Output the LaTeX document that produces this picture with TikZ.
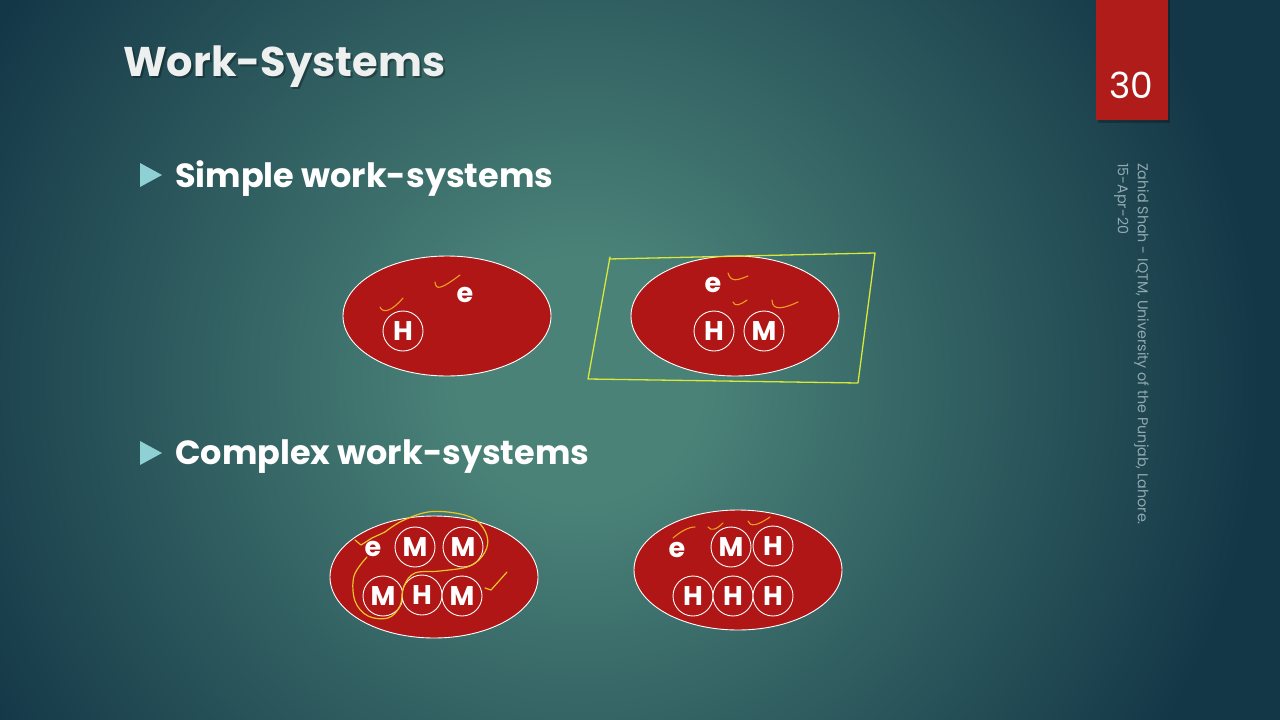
\documentclass[tikz,border=0pt]{standalone}
\usepackage{fontspec}
\setmainfont{Poppins}
\usetikzlibrary{shapes.geometric}
\definecolor{bgdark}{HTML}{143747}
\definecolor{bgmid}{HTML}{4A8278}
\definecolor{sysred}{HTML}{B01616}
\definecolor{boxred}{HTML}{B01C1A}
\definecolor{bulletc}{HTML}{8FD0D4}
\definecolor{titlec}{HTML}{EEF0F0}
\definecolor{footc}{HTML}{90A9B0}
\definecolor{tickorange}{HTML}{F0A020}
\definecolor{yel}{HTML}{D8E83A}
\definecolor{yelor}{HTML}{EDC526}
\pgfdeclareradialshading{bgshade}{\pgfpoint{0bp}{0bp}}{color(0bp)=(bgmid); color(3bp)=(bgmid); color(17bp)=(bgdark); color(50bp)=(bgdark)}
\begin{document}
\begin{tikzpicture}[x=1pt,y=-1pt,
  sys/.style={ellipse, draw=white, line width=0.9pt, fill=sysred, minimum width=208pt, minimum height=120pt, inner sep=0pt},
  agent/.style={circle, draw=white, line width=0.9pt, fill=sysred, minimum size=40pt, inner sep=0pt, text=white, font=\bfseries\fontsize{27}{27}\selectfont},
  env/.style={text=white, inner sep=0pt, font=\bfseries\fontsize{27}{27}\selectfont},
  tick/.style={draw=tickorange, line width=1.1pt, line cap=round, line join=round},
  bullettext/.style={anchor=base west, inner sep=0pt, text=white, font=\bfseries\fontsize{33.5}{33.5}\selectfont},
  bulletmark/.style={fill=bulletc}
]
\useasboundingbox (0,0) rectangle (1280,720);
% background
\begin{scope}
  \clip (0,0) rectangle (1280,720);
  \fill[bgdark] (0,0) rectangle (1280,720);
  \shade[shading=bgshade] (580,380) circle (1000);
\end{scope}

% page number box
\fill[black, opacity=0.25] (1098,0) rectangle (1170,123);
\fill[boxred] (1096,0) rectangle (1168,120);
\node[anchor=base, inner sep=0pt, text=white, font=\fontsize{36}{36}\selectfont] (pnum) at (1131,98) {30};

% footer
\node[rotate=-90, anchor=north west, inner sep=0pt, text=footc, align=left, font=\fontsize{14.3}{20}\selectfont] (foot) at (1149,163) {Zahid Shah - IQTM, University of the Punjab, Lahore.\\15-Apr-20};

% title
\node[anchor=base west, inner sep=0pt, text=black, opacity=0.3, font=\bfseries\fontsize{41.5}{41.5}\selectfont] at (125,78) {Work-Systems};
\node[anchor=base west, inner sep=0pt, text=titlec, font=\bfseries\fontsize{41.5}{41.5}\selectfont] (title) at (123,76) {Work-Systems};

% bullets
\fill[bulletmark] (140,163) -- (162,175) -- (140,187) -- cycle;
\node[bullettext] (b1) at (175,187) {Simple work-systems};
\fill[bulletmark] (140,441) -- (162,453) -- (140,465) -- cycle;
\node[bullettext] (b2) at (175,464) {Complex work-systems};

% system 1
\node[sys] (s1) at (447,316) {};
\node[agent] (s1h) at (403,331) {H};
\node[env] (s1e) at (465,295) {e};

% system 2
\node[sys] (s2) at (735,316) {};
\node[env] (s2e) at (713,285) {e};
\node[agent] (s2h) at (714,331) {H};
\node[agent] (s2m) at (764,331) {M};

% system 3
\node[sys, minimum height=122pt] (s3) at (434,577) {};
\node[env] (s3e) at (373,549) {e};
\node[agent] (s3m1) at (415,547) {M};
\node[agent] (s3m2) at (463,547) {M};
\node[agent] (s3m3) at (383,596) {M};
\node[agent] (s3h) at (422,595) {H};
\node[agent] (s3m4) at (462,596) {M};

% system 4
\node[sys] (s4) at (738,570) {};
\node[env] (s4e) at (677,550) {e};
\node[agent] (s4m) at (731,547) {M};
\node[agent] (s4h1) at (773,546) {H};
\node[agent] (s4h2) at (693,596) {H};
\node[agent] (s4h3) at (733,596) {H};
\node[agent] (s4h4) at (773,596) {H};

% hand-drawn annotations
\draw[yel, line width=1.3pt, line join=round, line cap=round] (609,259) -- (875,253) -- (858,383) -- (588,379) -- (610,257);

\draw[tick] (380,307) .. controls (383,314) and (392,311) .. (403,298);
\draw[tick] (435,282) .. controls (436,290) and (440,290) .. (460,275);
\draw[tick] (728,273) .. controls (731,283) and (738,280) .. (748,276);
\draw[tick] (733,302) .. controls (735,307) and (740,305) .. (747,300);
\draw[tick] (772,300) .. controls (772,312) and (785,308) .. (798,302);
\draw[tick] (673,538) .. controls (680,532) and (688,527) .. (695,527);
\draw[tick] (708,527) .. controls (711,531) and (716,530) .. (723,523);
\draw[tick] (748,521) .. controls (750,527) and (757,526) .. (770,517);

\draw[yelor, line width=1.2pt, line cap=round, line join=round] (355,540) -- (361,545) -- (372,538) -- (385,532);
\draw[yelor, line width=1.2pt, line cap=round] plot[smooth, tension=0.6] coordinates {(385,532) (402,521) (428,512) (455,513) (476,520) (487,536) (485,552) (470,566) (440,571) (415,573) (404,586) (400,606) (388,618) (368,616) (355,601) (354,576) (367,557)};
\draw[yelor, line width=1.2pt, line cap=round, line join=round] (485,588) -- (491,590) -- (507,572);
\end{tikzpicture}
\end{document}
